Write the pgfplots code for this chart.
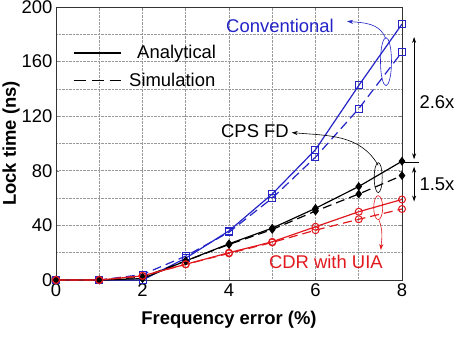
\documentclass[border=0pt]{standalone}
\usepackage{pgfplots}
\pgfplotsset{compat=1.18}
\usepackage{fontspec}
\setmainfont{Liberation Sans}
\usetikzlibrary{arrows.meta}
\definecolor{cblue}{RGB}{35,35,200}
\definecolor{cred}{RGB}{225,25,30}
\begin{document}
\begin{tikzpicture}
\useasboundingbox (0,0) rectangle (474bp,358bp);
\begin{axis}[
  at={(56bp,78bp)}, anchor=south west,
  scale only axis, width=346bp, height=273bp,
  xmin=0, xmax=8, ymin=0, ymax=200,
  xtick={0,2,4,6,8}, ytick={0,40,80,120,160,200},
  minor xtick={1,3,5,7}, minor ytick={20,60,100,140,180},
  grid=both,
  major grid style={densely dotted, gray!80, line width=0.6pt},
  minor grid style={densely dotted, gray!80, line width=0.6pt},
  tick align=inside, major tick length=3bp, minor tick length=0bp,
  axis line style={black!80, line width=0.8pt},
  /pgf/number format/assume math mode=true,
  ticklabel style={font=\fontsize{18.5}{20}\selectfont},
  xlabel={\bfseries Frequency error (\%)},
  ylabel={\bfseries Lock time (ns)},
  label style={font=\fontsize{18.5}{20}\selectfont},
  xlabel style={at={(axis description cs:0.5,-0.1465)}, anchor=center},
  ylabel style={at={(axis description cs:-0.13,0.5)}, anchor=center},
  clip=false,
  legend style={draw=none, fill=none, at={(0.04,0.874)}, anchor=north west,
     font=\fontsize{18.5}{20}\selectfont, row sep=9bp},
  legend cell align=left,
  legend image code/.code={\draw[#1] (0bp,0bp) -- (47bp,0bp);},
]
% Conventional
\addplot[cblue, line width=1.2pt, mark=square, mark size=3.5bp, mark options={solid, line width=1pt}, forget plot]
 coordinates {(0,0) (1,0) (2,0) (3,16) (4,36) (5,63) (6,95.5) (7,142.5) (8,187.5)};
\addplot[cblue, line width=1.2pt, dash pattern=on 9bp off 5bp, mark=square, mark size=3.5bp, mark options={solid, line width=1pt}, forget plot]
 coordinates {(0,0) (1,0) (2,4) (3,17.5) (4,35) (5,60) (6,90) (7,125.5) (8,167)};
% CPS FD
\addplot[black, line width=1.2pt, mark=diamond*, mark size=3.5bp, mark options={solid}, forget plot]
 coordinates {(0,0) (1,0) (2,1) (3,14) (4,26.5) (5,38) (6,52.5) (7,68.5) (8,87)};
\addplot[black, line width=1.2pt, dash pattern=on 9bp off 5bp, mark=diamond*, mark size=3.5bp, mark options={solid}, forget plot]
 coordinates {(0,0) (1,0) (2,2) (3,14) (4,26) (5,37) (6,50.5) (7,63) (8,76.5)};
% CDR with UIA
\addplot[cred, line width=1.2pt, mark=o, mark size=3.5bp, mark options={solid, line width=1pt}, forget plot]
 coordinates {(0,0) (1,0) (2,3) (3,11.5) (4,20) (5,28) (6,39) (7,50) (8,59)};
\addplot[cred, line width=1.2pt, dash pattern=on 9bp off 5bp, mark=o, mark size=3.5bp, mark options={solid, line width=1pt}, forget plot]
 coordinates {(0,0) (1,0) (2,3) (3,11.5) (4,19.5) (5,27.5) (6,36.5) (7,44.5) (8,52)};
\addlegendimage{black, line width=1.2pt}
\addlegendentry{\hspace*{14bp}Analytical}
\addlegendimage{black, line width=1.2pt, dash pattern=on 12bp off 6bp}
\addlegendentry{\hspace*{6bp}Simulation}
% annotations
\node[cblue, font=\fontsize{18.5}{20}\selectfont] at (axis cs:5.18,186) {Conventional};
\draw[cblue, line width=0.6pt] (axis cs:7.63,160) ellipse [x radius=5.5bp, y radius=24bp];
\draw[cblue, line width=0.6pt, -{Stealth[length=6bp,width=4bp]}] (axis cs:7.62,177) to[out=110,in=-5] (axis cs:6.73,189.5);
\node[black, font=\fontsize{18.5}{20}\selectfont] at (axis cs:4.6,108.8) {CPS FD};
\draw[black, line width=0.6pt] (axis cs:7.45,75) ellipse [x radius=4bp, y radius=15bp];
\draw[black, line width=0.6pt, -{Stealth[length=6bp,width=4bp]}] (axis cs:7.45,84) to[out=120,in=-5] (axis cs:5.45,108);
\node[cred, font=\fontsize{18.5}{20}\selectfont] at (axis cs:6.24,13.2) {CDR with UIA};
\draw[cred, line width=0.6pt] (axis cs:7.45,53) ellipse [x radius=4.5bp, y radius=12bp];
\draw[cred, line width=0.6pt, -{Stealth[length=6bp,width=4bp]}] (axis cs:7.47,44) to[out=-70,in=85] (axis cs:7.51,22);
\draw[black, line width=0.7pt, {Stealth[length=6bp,width=4bp]}-{Stealth[length=6bp,width=4bp]}] (axis cs:8.28,178) -- (axis cs:8.28,88.5);
\draw[black, line width=0.7pt, {Stealth[length=6bp,width=4bp]}-{Stealth[length=6bp,width=4bp]}] (axis cs:8.28,83) -- (axis cs:8.28,57.5);
\draw[black, line width=0.7pt] (axis cs:8,86) -- (axis cs:8.4,86);
\node[black, font=\fontsize{18.5}{20}\selectfont] at (axis cs:8.81,130) {2.6x};
\node[black, font=\fontsize{18.5}{20}\selectfont] at (axis cs:8.81,70) {1.5x};
\end{axis}
\end{tikzpicture}
\end{document}
